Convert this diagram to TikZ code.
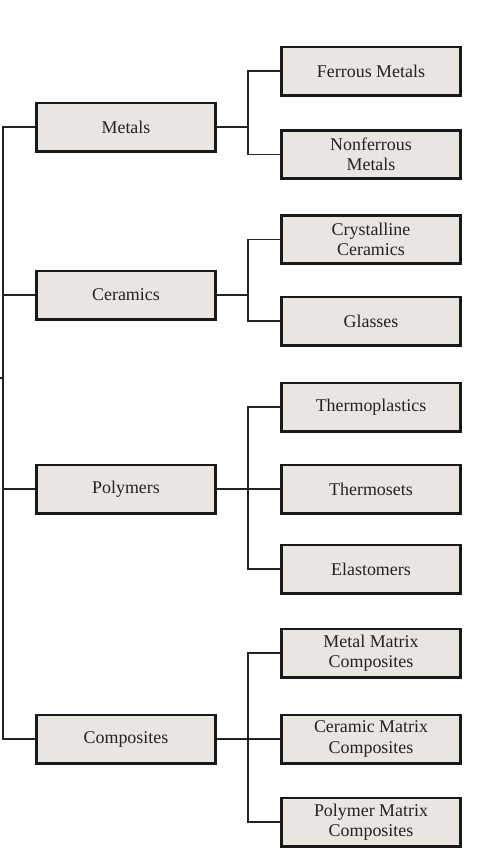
\documentclass[tikz,border=0pt]{standalone}
\usepackage{fontspec}
\setmainfont{Liberation Serif}
\usetikzlibrary{positioning, calc}
\definecolor{boxfill}{HTML}{E9E6E2}
\definecolor{inkgray}{HTML}{222222}

\begin{document}
\begin{tikzpicture}[x=0.02cm, y=-0.02cm,
    group/.style={draw=black!90, line width=1.6pt, fill=boxfill, text=inkgray,
        minimum width=3.584cm, minimum height=0.964cm, inner sep=0pt,
        align=center, font=\fontsize{10.2}{11.6}\selectfont},
    link/.style={draw=inkgray, line width=0.6pt}]
\useasboundingbox (0,0) rectangle (483,860);

% Material families
\node[group] (metals)     at (126,127) {Metals};
\node[group] (ceramics)   at (126,295) {Ceramics};
\node[group] (polymers)   at (126,489) {Polymers};
\node[group] (composites) at (126,739) {Composites};

% Sub-classes
\node[group] (ferrous)     at (371,71)    {Ferrous Metals};
\node[group] (nonferrous)  at (371,154.5) {Nonferrous\\Metals};
\node[group] (crystalline) at (371,239.5) {Crystalline\\Ceramics};
\node[group] (glasses)     at (371,321)   {Glasses};
\node[group] (thermoplast) at (371,407)   {Thermoplastics};
\node[group] (thermosets)  at (371,489)   {Thermosets};
\node[group] (elastomers)  at (371,569)   {Elastomers};
\node[group] (mmc)         at (371,653)   {Metal Matrix\\Composites};
\node[group] (cmc)         at (371,739)   {Ceramic Matrix\\Composites};
\node[group] (pmc)         at (371,822)   {Polymer Matrix\\Composites};

% Trunk on the left
\coordinate (trunk) at (3,378);
\coordinate (rootstub) at (0,378);
\draw[link] (metals.west) -| (trunk) |- (composites.west);
\draw[link] (trunk) -- (rootstub);
\foreach \p in {ceramics, polymers}
    \draw[link] (\p.west) -- (\p.west -| trunk);

% Branches to the right
\foreach \p/\a/\b in {metals/ferrous/nonferrous, ceramics/crystalline/glasses,
                      polymers/thermoplast/elastomers, composites/mmc/pmc} {
    \draw[link] (\a.west) -- ++(-32,0) |- (\b.west);
    \draw[link] (\p.east) -- ++(32,0);
}
\draw[link] (polymers.east) -- (thermosets.west);
\draw[link] (composites.east) -- (cmc.west);
\end{tikzpicture}
\end{document}
